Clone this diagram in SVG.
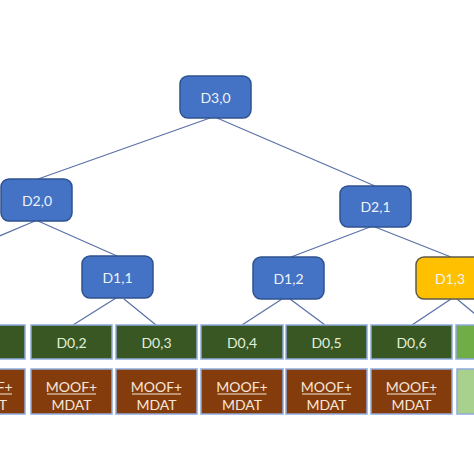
<svg xmlns="http://www.w3.org/2000/svg" width="474" height="474" viewBox="0 0 474 474">
<style>
.n{fill:#4472C4;stroke:#2F528F;stroke-width:1.5}
.y{fill:#FFC000;stroke:#5F5A4A;stroke-width:1.5}
.g{fill:#385723;stroke:#8FAADC;stroke-width:1.5}
.lg{fill:#70AD47;stroke:#8FAADC;stroke-width:1.5}
.b{fill:#843C0C;stroke:#8FAADC;stroke-width:1.5}
.lb{fill:#A9D18E;stroke:#8FAADC;stroke-width:1.5}
text{font-family:Lato,"Open Sans",sans-serif;font-size:14px;text-anchor:middle;dominant-baseline:central}
.tn{fill:#EEF2FA}
.tg{fill:#E2EFDA}
.tb{fill:#F8E6DA}
.u{stroke:#F8E6DA;stroke-width:1}
.c line{stroke:#5B73A8;stroke-width:1.3}
</style>
<rect width="474" height="474" fill="#fff"/>
<g class="c" id="connectors">
<line x1="210" y1="118" x2="38" y2="179"/>
<line x1="217" y1="118" x2="375" y2="186"/>
<line x1="35" y1="221" x2="-10" y2="240"/>
<line x1="38" y1="221" x2="117" y2="256"/>
<line x1="370" y1="227" x2="291" y2="257"/>
<line x1="375" y1="227" x2="451" y2="257"/>
<line x1="116" y1="298" x2="73" y2="325"/>
<line x1="124" y1="299" x2="156" y2="325"/>
<line x1="282" y1="299" x2="242" y2="325"/>
<line x1="290" y1="299" x2="325" y2="325"/>
<line x1="451" y1="299" x2="412" y2="325"/>
<line x1="457" y1="299" x2="480" y2="318"/>
</g>
<g id="D30"><rect class="n" x="180" y="76" width="71" height="42" rx="8"/><text class="tn" x="215.5" y="97">D3,0</text></g>
<g id="D20"><rect class="n" x="1" y="179" width="71" height="42" rx="8"/><text class="tn" x="37" y="200">D2,0</text></g>
<g id="D21"><rect class="n" x="340" y="186" width="71" height="41" rx="8"/><text class="tn" x="375.5" y="206.5">D2,1</text></g>
<g id="D11"><rect class="n" x="82" y="256" width="71" height="42" rx="8"/><text class="tn" x="117.5" y="277">D1,1</text></g>
<g id="D12"><rect class="n" x="253" y="257" width="71" height="42" rx="8"/><text class="tn" x="288.5" y="278">D1,2</text></g>
<g id="D13"><rect class="y" x="416" y="257" width="71" height="42" rx="8"/><text class="tn" x="450" y="278">D1,3</text></g>
<g id="D01"><rect class="g" x="-10" y="325" width="35" height="34"/></g>
<g id="D02"><rect class="g" x="31" y="325" width="81" height="34"/><text class="tg" x="71.5" y="342">D0,2</text></g>
<g id="D03"><rect class="g" x="116" y="325" width="81" height="34"/><text class="tg" x="156.5" y="342">D0,3</text></g>
<g id="D04"><rect class="g" x="201" y="325" width="82" height="34"/><text class="tg" x="242" y="342">D0,4</text></g>
<g id="D05"><rect class="g" x="286" y="325" width="81" height="34"/><text class="tg" x="326.5" y="342">D0,5</text></g>
<g id="D06"><rect class="g" x="371" y="325" width="81" height="34"/><text class="tg" x="411.5" y="342">D0,6</text></g>
<g id="D07"><rect class="lg" x="456" y="325" width="40" height="34"/></g>
<g id="M1"><rect class="b" x="-10" y="369" width="35" height="45"/><text class="tb" x="-13" y="386">MOOF+</text><line class="u" x1="-38" y1="394" x2="12" y2="394"/><text class="tb" x="-13" y="404">MDAT</text></g>
<g id="M2"><rect class="b" x="31" y="369" width="81" height="45"/><text class="tb" x="71.5" y="386">MOOF+</text><line class="u" x1="47" y1="394" x2="96" y2="394"/><text class="tb" x="71.5" y="404">MDAT</text></g>
<g id="M3"><rect class="b" x="116" y="369" width="81" height="45"/><text class="tb" x="156.5" y="386">MOOF+</text><line class="u" x1="132" y1="394" x2="181" y2="394"/><text class="tb" x="156.5" y="404">MDAT</text></g>
<g id="M4"><rect class="b" x="201" y="369" width="82" height="45"/><text class="tb" x="242" y="386">MOOF+</text><line class="u" x1="217.5" y1="394" x2="266.5" y2="394"/><text class="tb" x="242" y="404">MDAT</text></g>
<g id="M5"><rect class="b" x="286" y="369" width="81" height="45"/><text class="tb" x="326.5" y="386">MOOF+</text><line class="u" x1="302" y1="394" x2="351" y2="394"/><text class="tb" x="326.5" y="404">MDAT</text></g>
<g id="M6"><rect class="b" x="371" y="369" width="81" height="45"/><text class="tb" x="411.5" y="386">MOOF+</text><line class="u" x1="387" y1="394" x2="436" y2="394"/><text class="tb" x="411.5" y="404">MDAT</text></g>
<g id="M7"><rect class="lb" x="457" y="369" width="40" height="45"/></g>
</svg>
